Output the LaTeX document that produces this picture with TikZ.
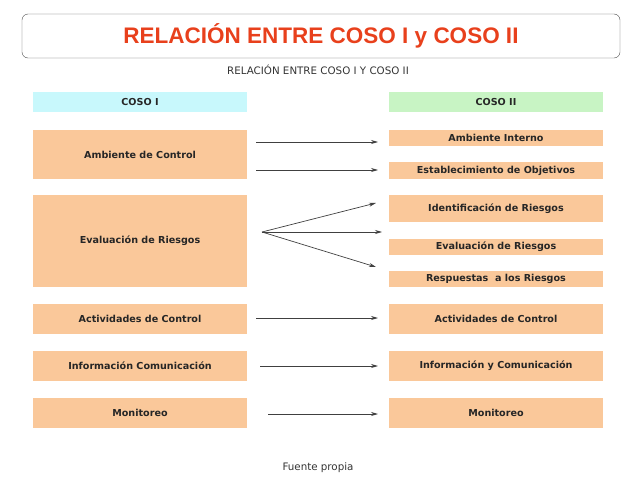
\documentclass[tikz,border=0pt]{standalone}
\usepackage{fontspec}
\setmainfont{Liberation Sans}
\newfontfamily\dvs{DejaVu Sans}
\usetikzlibrary{arrows.meta}
\definecolor{peach}{HTML}{FAC89A}
\definecolor{cyanh}{HTML}{C8F8FC}
\definecolor{greenh}{HTML}{C8F4C4}
\definecolor{titred}{HTML}{E8401C}
\begin{document}
\begin{tikzpicture}[x=1pt,y=-1pt,
  box/.style={fill=peach,draw=none,inner sep=0pt,font=\dvs\bfseries\fontsize{9.6}{11}\selectfont,text=black!85},
  arr/.style={-{Stealth[length=7pt,width=4pt]},black!75,line width=0.7pt}]
\useasboundingbox (0,0) rectangle (638,479);
\node[draw=black!70,rounded corners=6pt,minimum width=598pt,minimum height=44pt,text=titred,font=\bfseries\fontsize{22.5}{26}\selectfont] (title) at (321,36) {RELACIÓN ENTRE COSO I y COSO II};
\node[font=\dvs\fontsize{10.3}{12}\selectfont,text=black!80] (sub) at (318,70) {RELACIÓN ENTRE COSO I Y COSO II};
\newcommand\bx[5]{\node[box,minimum width=#3pt,minimum height=#4pt] (#1) at (#2) {#5};}
\node[box,fill=cyanh,minimum width=214pt,minimum height=20pt] (h1) at (140,102) {COSO I};
\node[box,fill=greenh,minimum width=214pt,minimum height=20pt] (h2) at (496,102) {COSO II};
\bx{l1}{140,154.5}{214}{49}{Ambiente de Control}
\bx{l2}{140,241}{214}{92}{Evaluación de Riesgos}
\bx{l3}{140,319}{214}{30}{Actividades de Control}
\bx{l4}{140,366}{214}{30}{Información Comunicación}
\bx{l5}{140,413}{214}{30}{Monitoreo}
\bx{r1}{496,138}{214}{16}{Ambiente Interno}
\bx{r2}{496,170.5}{214}{17}{Establecimiento de Objetivos}
\bx{r3}{496,208.5}{214}{27}{Identificación de Riesgos}
\bx{r4}{496,247}{214}{16}{Evaluación de Riesgos}
\bx{r5}{496,279}{214}{16}{Respuestas\ \ a los Riesgos}
\bx{r6}{496,319}{214}{30}{Actividades de Control}
\bx{r7}{496,366}{214}{30}{Información y Comunicación}
\bx{r8}{496,413}{214}{30}{Monitoreo}
\coordinate (s1) at (256,142); \coordinate (e1) at (378,142);
\coordinate (s2) at (256,170); \coordinate (e2) at (378,170);
\coordinate (o) at (262,232);
\coordinate (f1) at (376,203); \coordinate (f2) at (382,232); \coordinate (f3) at (376,267);
\coordinate (s3) at (256,318); \coordinate (e3) at (378,318);
\coordinate (s4) at (260,366); \coordinate (e4) at (378,366);
\coordinate (s5) at (268,414); \coordinate (e5) at (378,414);
\draw[arr] (s1) -- (e1);
\draw[arr] (s2) -- (e2);
\draw[arr] (o) -- (f1);
\draw[arr] (o) -- (f2);
\draw[arr] (o) -- (f3);
\draw[arr] (s3) -- (e3);
\draw[arr] (s4) -- (e4);
\draw[arr] (s5) -- (e5);
\node[font=\dvs\fontsize{10.3}{12}\selectfont,text=black!80] (src) at (318,468) {Fuente propia};
\end{tikzpicture}
\end{document}
